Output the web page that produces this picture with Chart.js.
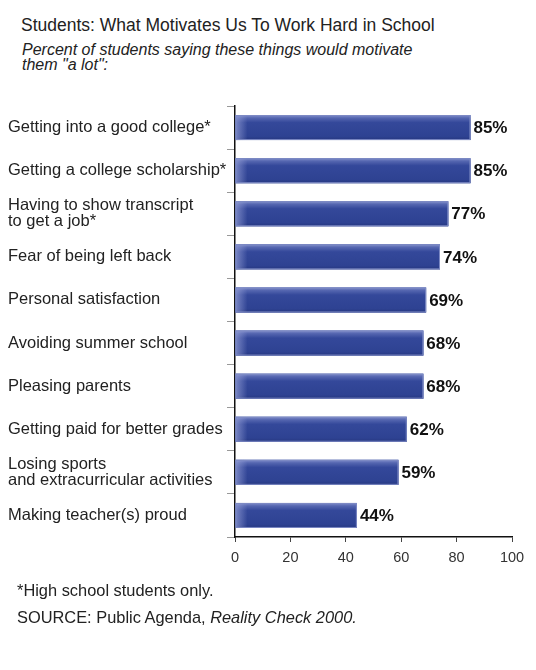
<!DOCTYPE html>
<html>
<head>
<meta charset="utf-8">
<script src="https://cdn.jsdelivr.net/npm/chart.js@4/dist/chart.umd.min.js"></script>
<style>
  html, body { margin: 0; padding: 0; background: #fff; }
  body { width: 536px; height: 670px; position: relative; overflow: hidden;
         font-family: "Liberation Sans", Arial, sans-serif; color: #222; }
  .txt { position: absolute; left: 0; white-space: nowrap; }
  #title { left: 21px; top: 17px; font-size: 17.5px; line-height: 17.5px; }
  #sub { left: 22px; top: 42px; font-size: 16px; line-height: 15px; font-style: italic; }
  #note { left: 17px; top: 582px; font-size: 16.4px; line-height: 16px; }
  #source { left: 17px; top: 609px; font-size: 16.4px; line-height: 16px; }
  #chart { position: absolute; left: 0; top: 0; }
</style>
</head>
<body>
<div class="txt" id="title">Students: What Motivates Us To Work Hard in School</div>
<div class="txt" id="sub">Percent of students saying these things would motivate<br>them "a lot":</div>
<canvas id="chart" width="536" height="600"></canvas>
<div class="txt" id="note">*High school students only.</div>
<div class="txt" id="source">SOURCE: Public Agenda, <i>Reality Check 2000.</i></div>

<script>
// 类别与数值
const categories = [
  'Getting into a good college*',
  'Getting a college scholarship*',
  ['Having to show transcript', 'to get a job*'],
  'Fear of being left back',
  'Personal satisfaction',
  'Avoiding summer school',
  'Pleasing parents',
  'Getting paid for better grades',
  ['Losing sports', 'and extracurricular activities'],
  'Making teacher(s) proud'
];
const percents = [85, 85, 77, 74, 69, 68, 68, 62, 59, 44];
const xTicks = [0, 20, 40, 60, 80, 100];

const FONT = '"Liberation Sans", Arial, sans-serif';

// 立体效果 + 数值标签
const barDecor = {
  id: 'barDecor',
  afterDatasetsDraw(chart) {
    const ctx = chart.ctx;
    const meta = chart.getDatasetMeta(0);
    ctx.save();
    meta.data.forEach((bar, i) => {
      const { x, y, base, height } = bar.getProps(['x', 'y', 'base', 'height'], true);
      const top = y - height / 2;
      const g = ctx.createLinearGradient(0, top, 0, top + height);
      g.addColorStop(0, '#8390cc');
      g.addColorStop(0.12, '#5566b0');
      g.addColorStop(0.3, '#34489a');
      g.addColorStop(0.85, '#2e4292');
      g.addColorStop(1, '#263780');
      ctx.fillStyle = g;
      ctx.fillRect(base, top, x - base, height);
      // left bevel
      const lg = ctx.createLinearGradient(base, 0, base + 12, 0);
      lg.addColorStop(0, 'rgba(150,160,215,0.7)');
      lg.addColorStop(1, 'rgba(150,160,215,0)');
      ctx.fillStyle = lg;
      ctx.fillRect(base, top, 12, height);
      ctx.strokeStyle = '#7d8ac4';
      ctx.lineWidth = 1;
      ctx.strokeRect(base + 0.5, top + 0.5, x - base - 1, height - 1);

      ctx.fillStyle = '#111';
      ctx.font = 'bold 17px ' + FONT;
      ctx.textAlign = 'left';
      ctx.textBaseline = 'middle';
      ctx.fillText(percents[i] + '%', x + 3, y + 1);
    });
    ctx.restore();
  }
};

new Chart(document.getElementById('chart'), {
  type: 'bar',
  data: {
    labels: categories,
    datasets: [{
      data: percents,
      backgroundColor: '#2f4595',
      borderWidth: 0,
      categoryPercentage: 1,
      barPercentage: 0.58
    }]
  },
  options: {
    indexAxis: 'y',
    responsive: false,
    animation: false,
    layout: { padding: { left: 8, top: 106, right: 24, bottom: 33 } },
    plugins: {
      legend: { display: false },
      tooltip: { enabled: false }
    },
    scales: {
      x: {
        min: 0,
        max: 100,
        afterBuildTicks(scale) { scale.ticks = xTicks.map(v => ({ value: v })); },
        afterFit(scale) { scale.height = 30; },
        grid: { drawOnChartArea: false, tickLength: 5, color: '#444' },
        border: { color: '#111', width: 1.5 },
        ticks: { color: '#333', padding: 7, font: { family: FONT, size: 14.5 } }
      },
      y: {
        afterFit(scale) { scale.width = 227; },
        grid: { drawOnChartArea: false, offset: true, tickLength: 8, color: '#999' },
        border: { color: '#111', width: 1.5 },
        ticks: {
          crossAlign: 'far',
          color: '#222',
          autoSkip: false,
          font: { family: FONT, size: 16.5, lineHeight: 0.97 }
        }
      }
    }
  },
  plugins: [barDecor]
});
</script>
</body>
</html>
